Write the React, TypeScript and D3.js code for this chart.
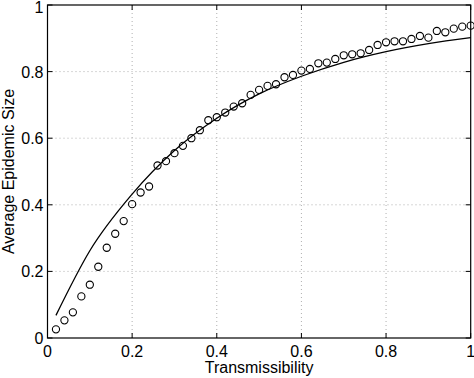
import React from "react";
import * as d3 from "d3";

const simX = [0.02,0.04,0.06,0.08,0.10,0.12,0.14,0.16,0.18,0.20,0.22,0.24,0.26,0.28,0.30,0.32,0.34,0.36,0.38,0.40,0.42,0.44,0.46,0.48,0.50,0.52,0.54,0.56,0.58,0.60,0.62,0.64,0.66,0.68,0.70,0.72,0.74,0.76,0.78,0.80,0.82,0.84,0.86,0.88,0.90,0.92,0.94,0.96,0.98,1.00];
const simY = [0.026,0.053,0.077,0.125,0.160,0.214,0.271,0.313,0.351,0.402,0.437,0.455,0.518,0.531,0.555,0.577,0.600,0.624,0.654,0.663,0.677,0.695,0.705,0.730,0.745,0.757,0.762,0.783,0.790,0.803,0.808,0.825,0.827,0.838,0.849,0.852,0.855,0.865,0.880,0.888,0.891,0.891,0.898,0.907,0.902,0.922,0.918,0.929,0.935,0.938];

const theoryX = [0.02,0.10,0.20,0.30,0.40,0.50,0.60,0.70,0.80,0.90,1.00];
const theoryY = [0.068,0.262,0.432,0.563,0.660,0.733,0.786,0.828,0.860,0.884,0.902];

const xTicks = [0,0.2,0.4,0.6,0.8,1];
const yTicks = [0,0.2,0.4,0.6,0.8,1];
const xLabel = "Transmissibility";
const yLabel = "Average Epidemic Size";

export default function App() {
  const W = 474, H = 378;
  const x = d3.scaleLinear().domain([0, 1]).range([47.5, 470.7]);
  const y = d3.scaleLinear().domain([0, 1]).range([338, 5]);
  const [x0, x1] = x.range();
  const [y0, y1] = y.range();
  const line = d3
    .line<number>()
    .x((_, i) => x(theoryX[i]))
    .y((d) => y(d))
    .curve(d3.curveMonotoneX);
  const font = "'Liberation Sans', Arial, Helvetica, sans-serif";
  const tl = 5;
  return (
    <svg width={W} height={H} style={{ position: "absolute", left: 0, top: 0, background: "#fff" }} fontFamily={font}>
      <rect x={0} y={0} width={W} height={H} fill="#fff" />
      {xTicks.filter((t) => t > 0 && t < 1).map((t) => (
        <line key={"gx" + t} x1={x(t)} x2={x(t)} y1={y0} y2={y1} stroke="#b0b0b0" strokeWidth={1} strokeDasharray="1,3" />
      ))}
      {yTicks.filter((t) => t > 0 && t < 1).map((t) => (
        <line key={"gy" + t} x1={x0} x2={x1} y1={y(t)} y2={y(t)} stroke="#b0b0b0" strokeWidth={1} strokeDasharray="1,3" />
      ))}
      {xTicks.map((t) => (
        <g key={"tx" + t}>
          <line x1={x(t)} x2={x(t)} y1={y0} y2={y0 - tl} stroke="#000" />
          <line x1={x(t)} x2={x(t)} y1={y1} y2={y1 + tl} stroke="#000" />
          <text x={x(t)} y={357} textAnchor="middle" fontSize={16}>{d3.format("~g")(t)}</text>
        </g>
      ))}
      {yTicks.map((t) => (
        <g key={"ty" + t}>
          <line x1={x0} x2={x0 + tl} y1={y(t)} y2={y(t)} stroke="#000" />
          <line x1={x1} x2={x1 - tl} y1={y(t)} y2={y(t)} stroke="#000" />
          <text x={x0 - 4} y={Math.max(y(t) + 6, 13)} textAnchor="end" fontSize={16}>{d3.format("~g")(t)}</text>
        </g>
      ))}
      <path d={line(theoryY) || ""} fill="none" stroke="#000" strokeWidth={1.3} />
      {simY.map((v, i) => (
        <circle key={"c" + i} cx={x(simX[i])} cy={y(v)} r={3.6} fill="none" stroke="#000" strokeWidth={1.1} />
      ))}
      <rect x={x0} y={y1} width={x1 - x0} height={y0 - y1} fill="none" stroke="#000" strokeWidth={1.2} />
      <text x={(x0 + x1) / 2} y={373} textAnchor="middle" fontSize={16}>{xLabel}</text>
      <text transform={`translate(14,${(y0 + y1) / 2}) rotate(-90)`} textAnchor="middle" fontSize={16}>{yLabel}</text>
    </svg>
  );
}
